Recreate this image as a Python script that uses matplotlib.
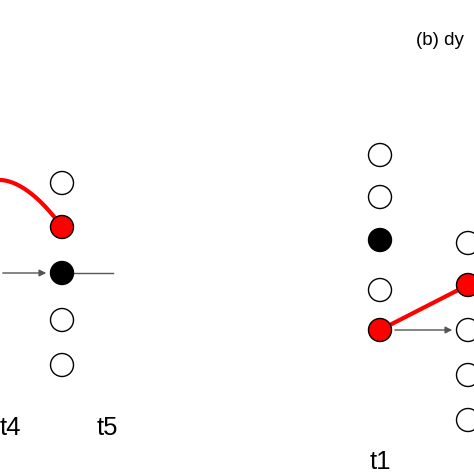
import matplotlib
matplotlib.use("Agg")
import matplotlib.pyplot as plt
from matplotlib.patches import Circle, FancyArrowPatch
import numpy as np

left_x = 62
left_y = [183, 227, 273, 320, 365]
left_kind = ["w", "r", "k", "w", "w"]
r1_x = 380
r1_y = [155, 197, 240, 290, 330]
r1_kind = ["w", "w", "k", "w", "r"]
r2_x = 468
r2_y = [243, 285, 330, 375, 420]
r2_kind = ["w", "r", "w", "w", "w"]
labels = [("t4", 10, 428), ("t5", 107, 428), ("t1", 380, 462)]

fig = plt.figure(figsize=(4.74, 4.74), dpi=100)
ax = fig.add_axes([0, 0, 1, 1])
ax.set_xlim(0, 474); ax.set_ylim(474, 0); ax.axis("off")
col = {"w": "white", "r": "#ff0000", "k": "black"}

t = np.linspace(0, 1, 50)
xs = left_x * t
ys = 180 + 47 * t**1.8
ax.plot(xs, ys, color="red", lw=3, zorder=1)
ax.plot([r1_x, r2_x], [r1_y[4], r2_y[1]], color="red", lw=3, zorder=1)

for (x0, y0, x1) in [(0, 273, left_x - 13), (r1_x + 12, 330, r2_x - 13)]:
    ax.add_patch(FancyArrowPatch((x0, y0), (x1, y0), arrowstyle="-|>", mutation_scale=10,
                                 color="#555555", lw=1, zorder=1))
ax.plot([left_x, 113], [273, 273], color="#555555", lw=1, zorder=1)

for x, ys_, ks in [(left_x, left_y, left_kind), (r1_x, r1_y, r1_kind), (r2_x, r2_y, r2_kind)]:
    for y, k in zip(ys_, ks):
        ax.add_patch(Circle((x, y), 11.5, facecolor=col[k], edgecolor="black", lw=1, zorder=2))

for s, x, y in labels:
    ax.text(x, y, s, fontsize=18.5, ha="center", va="center", family="Liberation Sans")
ax.text(416, 40, "(b) dy", fontsize=13.5, ha="left", va="center", family="Liberation Sans")
fig.savefig("out.png", dpi=100)
